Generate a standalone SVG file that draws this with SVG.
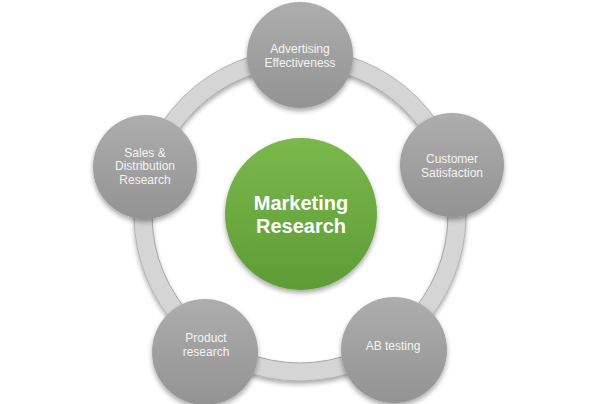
<svg xmlns="http://www.w3.org/2000/svg" width="600" height="404" viewBox="0 0 600 404">
  <style>
    .node { fill: url(#grayGrad); filter: url(#shadow); }
    .lbl { font-family: "Liberation Sans", Arial, sans-serif; font-size: 12px; fill: #f4f4f4; text-anchor: middle; }
    .big { font-family: "Liberation Sans", Arial, sans-serif; font-size: 20px; font-weight: bold; fill: #ffffff; text-anchor: middle; }
  </style>
  <defs>
    <linearGradient id="grayGrad" x1="0" y1="0" x2="0" y2="1">
      <stop offset="0" stop-color="#adadad"/>
      <stop offset="1" stop-color="#939393"/>
    </linearGradient>
    <linearGradient id="greenGrad" x1="0" y1="0" x2="0" y2="1">
      <stop offset="0" stop-color="#7bb84c"/>
      <stop offset="1" stop-color="#5e9c37"/>
    </linearGradient>
    <filter id="shadow" x="-20%" y="-20%" width="140%" height="140%">
      <feGaussianBlur in="SourceAlpha" stdDeviation="2.5"/>
      <feOffset dx="0" dy="3" result="b"/>
      <feComponentTransfer><feFuncA type="linear" slope="0.35"/></feComponentTransfer>
      <feMerge><feMergeNode/><feMergeNode in="SourceGraphic"/></feMerge>
    </filter>
  </defs>
  <rect width="600" height="404" fill="#ffffff"/>
  <g id="connectors">
    <circle cx="300" cy="215" r="157" fill="none" stroke="#d5d5d5" stroke-width="18" filter="url(#shadow)"/>
    <circle cx="300" cy="215" r="166" fill="none" stroke="#b4b4b4" stroke-width="1"/>
    <circle cx="300" cy="215" r="148" fill="none" stroke="#a8a8a8" stroke-width="1"/>
  </g>
  <g id="center">
    <circle cx="301" cy="214" r="76" fill="url(#greenGrad)" filter="url(#shadow)"/>
    <text class="big" x="301" y="210">Marketing</text>
    <text class="big" x="301" y="233">Research</text>
  </g>
  <g id="advertising">
    <circle class="node" cx="300" cy="55" r="53"/>
    <text class="lbl" x="300" y="53">Advertising</text>
    <text class="lbl" x="300" y="67">Effectiveness</text>
  </g>
  <g id="customer">
    <circle class="node" cx="452" cy="165" r="52"/>
    <text class="lbl" x="452" y="163">Customer</text>
    <text class="lbl" x="452" y="177">Satisfaction</text>
  </g>
  <g id="abtesting">
    <circle class="node" cx="394" cy="350" r="53"/>
    <text class="lbl" x="393" y="350">AB testing</text>
  </g>
  <g id="product">
    <circle class="node" cx="205" cy="352" r="53"/>
    <text class="lbl" x="206" y="342">Product</text>
    <text class="lbl" x="206" y="356">research</text>
  </g>
  <g id="sales">
    <circle class="node" cx="145" cy="167" r="52"/>
    <text class="lbl" x="145" y="157">Sales &amp;</text>
    <text class="lbl" x="145" y="170">Distribution</text>
    <text class="lbl" x="145" y="184">Research</text>
  </g>
</svg>
